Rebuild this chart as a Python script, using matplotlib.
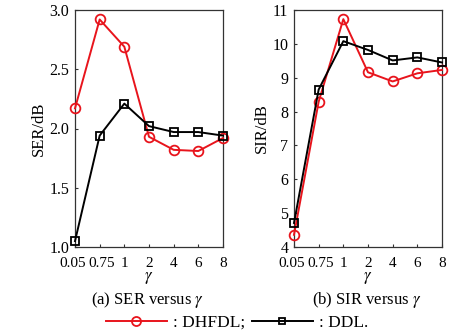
import numpy as np
import matplotlib.pyplot as plt
import matplotlib.transforms as mtransforms
from matplotlib.lines import Line2D

plt.rcParams['font.family'] = 'Liberation Serif'
plt.rcParams['mathtext.fontset'] = 'stix'
plt.rcParams['font.size'] = 11

# Datos
gammas = ['0.05', '0.75', '1', '2', '4', '6', '8']
ser_dhfdl = [2.17, 2.92, 2.69, 1.93, 1.82, 1.81, 1.92]
ser_ddl = [1.05, 1.94, 2.21, 2.02, 1.97, 1.97, 1.94]
sir_dhfdl = [4.36, 8.29, 10.73, 9.16, 8.89, 9.13, 9.23]
sir_ddl = [4.71, 8.65, 10.08, 9.82, 9.51, 9.60, 9.45]

x = np.arange(len(gammas))

fig = plt.figure(figsize=(4.74, 3.32), dpi=100)
ax1 = fig.add_axes([75/474, 1 - 247/332, 148/474, 237/332])
ax2 = fig.add_axes([294/474, 1 - 247/332, 148/474, 237/332])

red_kw = dict(color='#e8141c', marker='o', markersize=7, markerfacecolor='none',
              markeredgewidth=1.3, linewidth=1.4, clip_on=False, zorder=3)
blk_kw = dict(color='black', marker='s', markersize=6, markerfacecolor='none',
              markeredgewidth=1.3, linewidth=1.4, clip_on=False, zorder=3)

# (a) SER
ax1.plot(x, ser_dhfdl, **red_kw)
ax1.plot(x, ser_ddl, **blk_kw)
ax1.set_ylim(1.0, 3.0)
ax1.set_yticks([1.0, 1.5, 2.0, 2.5, 3.0])
ax1.set_ylabel('SER/dB', labelpad=2, fontsize=12)

# (b) SIR
ax2.plot(x, sir_dhfdl, **red_kw)
ax2.plot(x, sir_ddl, **blk_kw)
ax2.set_ylim(4, 11)
ax2.set_yticks(range(4, 12))
ax2.set_ylabel('SIR/dB', labelpad=2, fontsize=12)

for ax in (ax1, ax2):
    ax.set_xlim(0, 6)
    ax.set_xticks(x)
    ax.set_xticklabels(gammas)
    ax.set_xlabel(r'$\gamma$', labelpad=0, fontsize=12)
    ax.tick_params(direction='in', length=2.5, width=0.8, color='#333333')
    ax.tick_params(axis='x', pad=7, labelsize=11)
    ax.tick_params(axis='y', pad=4, labelsize=11.5)
    for s in ax.spines.values():
        s.set_linewidth(0.9)
        s.set_color('#333333')
    # separar un poco las etiquetas 0.05 y 0.75
    labs = ax.get_xticklabels()
    labs[0].set_transform(labs[0].get_transform() +
                          mtransforms.ScaledTranslation(-2/100, 0, fig.dpi_scale_trans))
    labs[1].set_transform(labs[1].get_transform() +
                          mtransforms.ScaledTranslation(2/100, 0, fig.dpi_scale_trans))

fig.text(148/474, 1 - 300/332, r'(a) SER versus $\gamma$', ha='center', va='center', fontsize=12)
fig.text(367/474, 1 - 300/332, r'(b) SIR versus $\gamma$', ha='center', va='center', fontsize=12)

handles = [
    Line2D([], [], color='#e8141c', marker='o', markersize=6.5, markerfacecolor='none',
           markeredgewidth=1.3, linewidth=1.4),
    Line2D([], [], color='black', marker='s', markersize=4.5, markerfacecolor='none',
           markeredgewidth=1.3, linewidth=1.4),
]
fig.legend(handles, [': DHFDL;', ': DDL.'], loc='center', bbox_to_anchor=(0.5, 1 - 323/332),
           ncol=2, frameon=False, numpoints=1, handlelength=3.5, handletextpad=0.35,
           columnspacing=0.4, borderpad=0, fontsize=12.5)

fig.savefig('out.png', dpi=100)
